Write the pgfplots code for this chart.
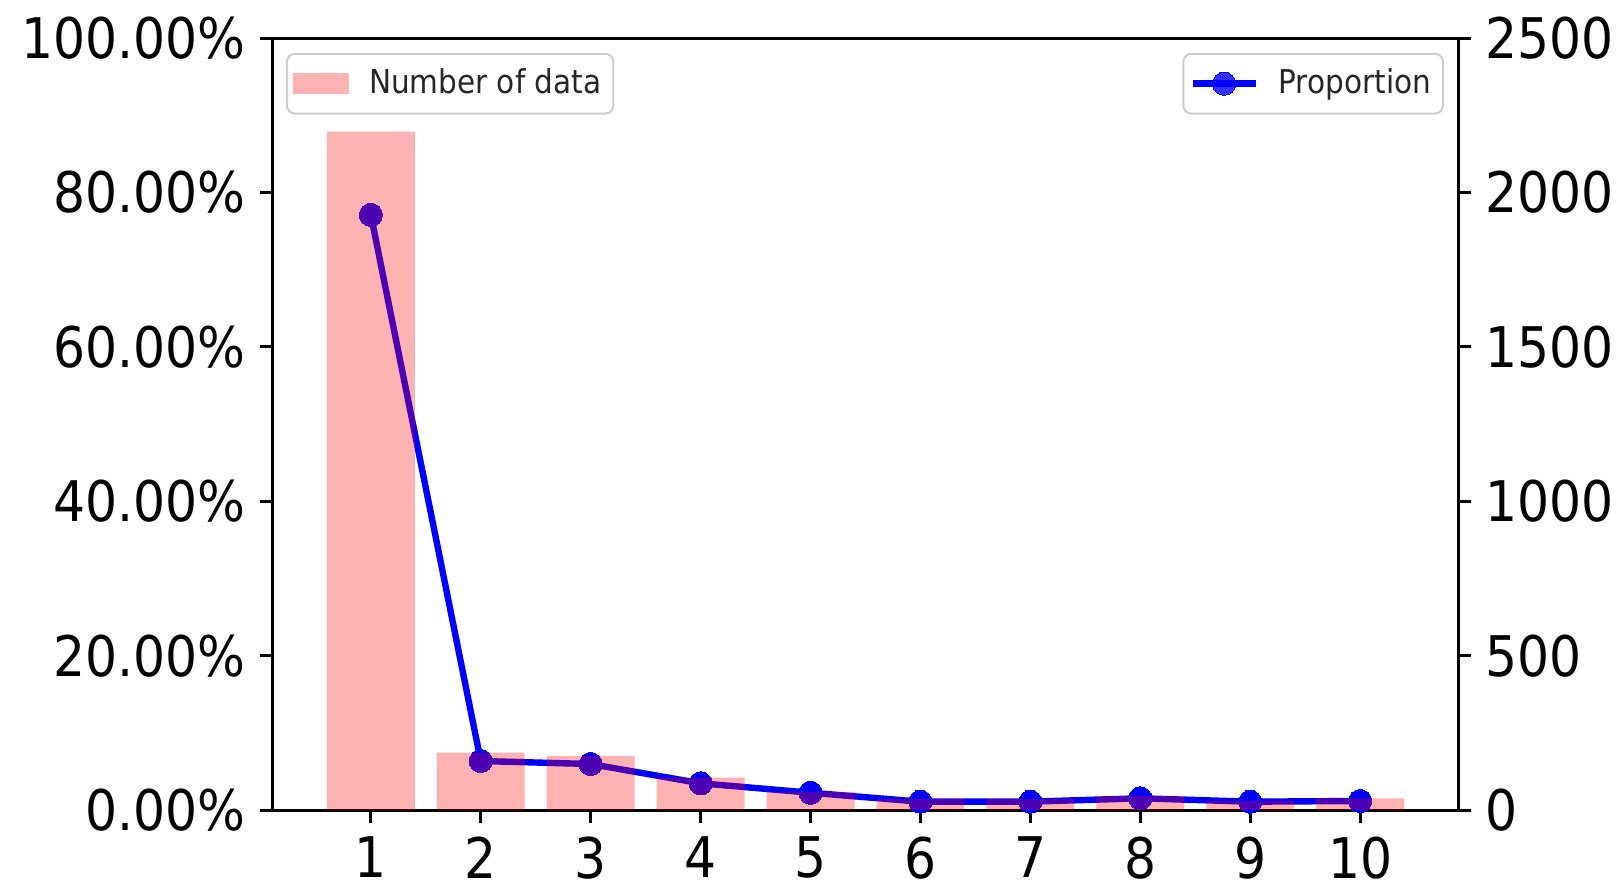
\documentclass[border=0pt]{standalone}
\usepackage{fontspec}
\setmainfont{DejaVu Sans}[FakeStretch=0.9]
\usepackage{pgfplots}
\pgfplotsset{compat=1.18}
\definecolor{legedge}{HTML}{CCCCCC}
\definecolor{mplblue}{HTML}{0000FF}
\begin{document}
\begin{tikzpicture}
\pgfplotsset{
  every axis/.append style={
    scale only axis, width=296.25pt, height=193pt,
    xmin=0.11, xmax=10.89,
    axis line style={line width=0.75pt},
    tick style={line width=0.75pt, black},
    major tick length=3.25pt,
    tick align=outside,
    ticklabel style={font=\fontsize{14}{16}\selectfont},
    /pgf/number format/assume math mode=true,
    legend style={draw=legedge, line width=0.5pt, rounded corners=2pt,
      fill=white, fill opacity=0.8, text opacity=1,
      inner xsep=1.5pt, inner ysep=1.8pt,
      nodes={inner xsep=1.5pt, inner ysep=1.8pt},
      font=\fontsize{8.2}{9.5}\selectfont, text=black!85, legend cell align=left},
  }
}
\begin{axis}[
  ymin=0, ymax=100,
  ytick={0,20,40,60,80,100},
  yticklabels={0.00\%,20.00\%,40.00\%,60.00\%,80.00\%,100.00\%},
  ytick pos=left,
  xtick={1,2,3,4,5,6,7,8,9,10},
  xticklabels={1,2,3,4,5,6,7,8,9,10},
  xtick pos=bottom,
  legend style={at={(1,1)}, anchor=north east, xshift=-3.5pt, yshift=-3.7pt},
  legend image code/.code={\draw[sharp corners, mark repeat=2,mark phase=2,#1] plot coordinates {(0pt,0pt) (7.9pt,0pt) (15.75pt,0pt)};},
]
\addplot[mplblue, line width=1.6pt, mark=*, mark size=2.9pt, mark options={fill=mplblue, draw=mplblue, line width=0pt}]
  coordinates {(1,77.1) (2,6.35) (3,5.96) (4,3.46) (5,2.24) (6,1.08) (7,1.08) (8,1.52) (9,1.08) (10,1.17)};
\addlegendentry{\hspace{3.5pt}Proportion\hspace{1pt}}
\end{axis}
\begin{axis}[
  ymin=0, ymax=2500,
  axis x line=none,
  axis y line*=right,
  ytick={0,500,1000,1500,2000,2500},
  yticklabels={0,500,1000,1500,2000,2500},
  legend style={at={(0,1)}, anchor=north west, xshift=3.25pt, yshift=-3.7pt},
  legend image code/.code={\fill[sharp corners, red, fill opacity=0.3] (0pt,-2.6pt) rectangle (14pt,2.6pt);},
]
\addplot[ybar, bar width=0.8, bar shift=0pt, draw=none, fill=red, fill opacity=0.3]
  coordinates {(1,2197) (2,186) (3,175) (4,105) (5,59) (6,35) (7,35) (8,45) (9,30) (10,38)};
\addlegendentry{\hspace{3.5pt}Number of data\hspace{1pt}}
\end{axis}
\pgfresetboundingbox
\path[use as bounding box] (-68.25pt,-20.75pt) rectangle (337.75pt,202.5pt);
\end{tikzpicture}
\end{document}
